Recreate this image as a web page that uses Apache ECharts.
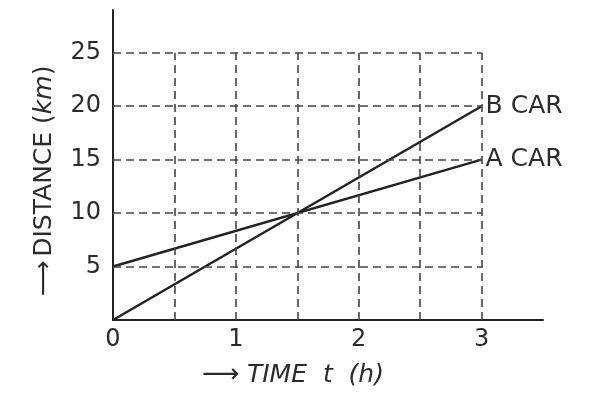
<!DOCTYPE html>
<html>
<head>
<meta charset="utf-8">
<script src="https://cdn.jsdelivr.net/npm/echarts@6/dist/echarts.min.js"></script>
<style>html,body{margin:0;padding:0;background:#fff}#c{width:599px;height:406px}</style>
</head>
<body>
<div id="c"></div>
<script>
var seriesNames = ['A CAR', 'B CAR'];
var timeA = [0, 3];
var distA = [5, 15];
var timeB = [0, 3];
var distB = [0, 20];
var gridX = [0.5, 1, 1.5, 2, 2.5, 3];
var gridY = [5, 10, 15, 20, 25];
var gridXMax = 3;
var gridYMax = 25;

function pairs(xs, ys) { return xs.map(function (x, i) { return [x, ys[i]]; }); }

var gridLines = [];
gridX.forEach(function (x) { gridLines.push([{ coord: [x, 0] }, { coord: [x, gridYMax] }]); });
gridY.forEach(function (y) { gridLines.push([{ coord: [0, y] }, { coord: [gridXMax, y] }]); });

var font = 'DejaVu Sans';
var txt = '#2b2b2b';
var chart = echarts.init(document.getElementById('c'));
chart.setOption({
  backgroundColor: '#fff',
  animation: false,
  grid: { left: 113, right: 56, top: 10, bottom: 86 },
  xAxis: {
    type: 'value', min: 0, max: 3.5, interval: 1,
    axisLine: { lineStyle: { color: '#222', width: 2 } },
    axisTick: { show: false },
    splitLine: { show: false },
    axisLabel: { showMaxLabel: false, color: txt, fontSize: 24, fontFamily: font, margin: 8 },
    name: '{a|⟶}  {i|TIME  t  (h)}',
    nameLocation: 'middle', nameGap: 42,
    nameTextStyle: { padding: [0, 70, 0, 0], color: txt, fontFamily: font,
      rich: { a: { fontSize: 26, color: txt, fontFamily: font }, i: { fontSize: 25, fontStyle: 'italic', color: txt, fontFamily: font } } }
  },
  yAxis: {
    type: 'value', min: 0, max: 29, interval: 5,
    axisLine: { lineStyle: { color: '#222', width: 2 } },
    axisTick: { show: false },
    splitLine: { show: false },
    axisLabel: { showMinLabel: false, showMaxLabel: false, color: txt, fontSize: 24, fontFamily: font, margin: 12 },
    name: '{a|⟶} {n|DISTANCE (}{i|km}{n|)}',
    nameLocation: 'middle', nameGap: 56,
    nameTextStyle: { padding: [0, 32, 0, 0], color: txt, fontFamily: font,
      rich: { a: { fontSize: 25, color: txt, fontFamily: font }, n: { fontSize: 25, color: txt, fontFamily: font }, i: { fontSize: 25, fontStyle: 'italic', color: txt, fontFamily: font } } }
  },
  series: [
    {
      type: 'line', name: 'grid', data: [], silent: true,
      markLine: { silent: true, symbol: 'none', label: { show: false },
        lineStyle: { color: '#444', width: 1.6, type: [8, 5] }, data: gridLines }
    },
    {
      type: 'line', name: seriesNames[0], data: pairs(timeA, distA), symbol: 'none',
      lineStyle: { color: '#222', width: 2.5 },
      endLabel: { show: true, formatter: seriesNames[0], color: txt, fontSize: 25, fontFamily: font, distance: 4 }
    },
    {
      type: 'line', name: seriesNames[1], data: pairs(timeB, distB), symbol: 'none',
      lineStyle: { color: '#222', width: 2.5 },
      endLabel: { show: true, formatter: seriesNames[1], color: txt, fontSize: 25, fontFamily: font, distance: 4 }
    }
  ]
});
</script>
</body>
</html>
